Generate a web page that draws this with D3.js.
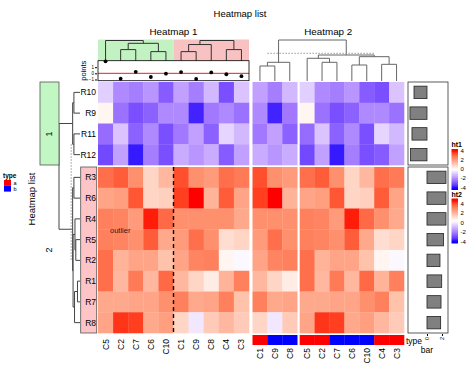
<!DOCTYPE html>
<html>
<head>
<meta charset="utf-8">
<script src="https://cdn.jsdelivr.net/npm/d3@7"></script>
<style>
  body { margin: 0; background: #fff; }
  svg { display: block; font-family: "Liberation Sans", Arial, sans-serif; }
</style>
</head>
<body>
<div id="chart"></div>
<script>
// size of the page
var width = 474;
var height = 369;

// rows, split in two slices
var rowsTop = ["R10", "R9", "R11", "R12"];
var rowsBottom = ["R3", "R6", "R4", "R5", "R2", "R1", "R7", "R8"];

// column orders
var matrixCols = ["C1", "C2", "C3", "C4", "C5", "C6", "C7", "C8", "C9", "C10"];
var hm1Cols = ["C5", "C2", "C7", "C6", "C10", "C1", "C9", "C8", "C4", "C3"];
var hm2ColsA = ["C1", "C9", "C8"];
var hm2ColsB = ["C5", "C2", "C7", "C6", "C10", "C4", "C3"];

// matrix values, one row per name, columns C1..C10
var matrixRows = ["R1", "R2", "R3", "R4", "R5", "R6", "R7", "R8", "R9", "R10", "R11", "R12"];
var matrixValues = [
  [1.5, 1.5, 2.6, 1.6, 2.9, 1.5, 2.7, 0.4, 0.9, 3.0],
  [1.9, 1.6, -0.1, 0.2, 2.9, 1.9, 1.9, 2.6, 2.5, 1.3],
  [3.4, 3.2, 2.7, 2.9, 2.9, 0.9, 2.3, 2.1, 2.3, 1.5],
  [2.3, 2.5, 1.8, 2.3, 2.6, 3.9, 2.1, 2.3, 2.3, 3.0],
  [2.1, 2.5, 0.9, 0.7, 2.6, 3.2, 2.3, 2.3, 2.9, 1.8],
  [3.6, 2.0, 1.9, 3.2, 1.9, 0.9, 3.3, 1.6, 4.0, 1.0],
  [2.6, 1.8, 1.3, 2.6, 1.8, 1.9, 1.9, 1.9, 1.8, 2.3],
  [0.9, 3.7, 1.1, 1.5, 1.9, 1.8, 3.6, 1.1, -0.4, 2.0],
  [-2.0, -2.4, -2.4, -2.0, 0.2, -2.7, -3.0, -2.3, -3.7, -2.0],
  [-1.6, -2.0, -1.0, -3.0, -0.8, -1.8, -2.2, -1.2, -2.2, -2.8],
  [-2.3, -1.0, -1.2, -0.7, -2.5, -2.0, -2.7, -2.7, -1.6, -3.0],
  [-1.4, -1.6, -1.6, -2.8, -3.1, -2.2, -3.8, -1.4, -1.8, -3.0]
];

// column annotation "points" (C1..C10)
var pointValues = [0.2, -0.88, -0.46, -0.15, 1.95, -0.6, 0.25, 0.15, -0.92, -0.06];
// column annotation "type" (C1..C10)
var typeValues = ["a", "a", "a", "a", "a", "b", "b", "b", "b", "b"];
var typeLevels = ["a", "b"];
var typeColors = ["#ff0000", "#0000ff"];
// row annotation "bar" (R1..R12)
var barValues = [1.96, 1.73, 2.53, 2.53, 2.2, 2.53, 1.87, 1.82, -2.27, -1.73, -2.0, -2.2];
var barTicks = [0, 2];
var legendTicks = [4, 2, 0, -2, -4];

// dendrograms: [height, left, right]
var hm1DendGreen = [10, "C5", [8.6, [5.5, "C2", "C7"], [4.5, "C6", "C10"]]];
var hm1DendRed = [10, [8, [4.5, "C1", "C9"], "C8"], [5.5, "C4", "C3"]];
var hm2Dend = [10, [4.56, [3.66, "C1", "C9"], "C8"],
  [6.34, [5.54, "C5", [4.56, "C2", "C7"]], [5.93, [3.9, "C6", "C10"], [4.07, "C4", "C3"]]]];
var hm2CutHeight = 6.76;
var rowDendTop = [3.5, [2.9, "R10", "R9"], [2.9, "R11", "R12"]];
var rowDendBottom = [3.5, [2.9, "R3", "R6"], [3.3, [2.4, "R4", [2.0, "R5", "R2"]], [2.6, [1.2, "R1", "R7"], "R8"]]];
var rowDendAll = [10, rowDendTop, rowDendBottom];

var svg = d3.select("#chart").append("svg")
  .attr("width", width)
  .attr("height", height);

var color = d3.scaleLinear()
  .domain([-4, 0, 4])
  .range(["#0000ff", "#ffffff", "#ff0000"])
  .interpolate(d3.interpolateLab)
  .clamp(true);

function value(r, c) {
  return matrixValues[matrixRows.indexOf(r)][matrixCols.indexOf(c)];
}

// scales for rows and columns
var yTop = d3.scaleBand().domain(rowsTop).range([82, 165]);
var yBottom = d3.scaleBand().domain(rowsBottom).range([167, 333]);
var rowSlices = [yTop, yBottom];
function rowY(r) {
  var s = rowsTop.indexOf(r) >= 0 ? yTop : yBottom;
  return s(r) + s.bandwidth() / 2;
}

var x1 = d3.scaleBand().domain(hm1Cols).range([98, 249]);
var x2a = d3.scaleBand().domain(hm2ColsA).range([252.5, 297.2]);
var x2b = d3.scaleBand().domain(hm2ColsB).range([299.7, 404]);
function colX(scale) {
  return function(c) { return scale(c) + scale.bandwidth() / 2; };
}
function x2(c) {
  return hm2ColsA.indexOf(c) >= 0 ? colX(x2a)(c) : colX(x2b)(c);
}

// heatmap bodies
function drawBody(xs) {
  rowSlices.forEach(function(ys) {
    xs.forEach(function(xsc) {
      ys.domain().forEach(function(r) {
        svg.selectAll(null)
          .data(xsc.domain())
          .enter()
          .append("rect")
          .attr("x", function(c) { return xsc(c); })
          .attr("y", ys(r))
          .attr("width", xsc.bandwidth() + 0.3)
          .attr("height", ys.bandwidth() + 0.3)
          .attr("fill", function(c) { return color(value(r, c)); });
      });
    });
  });
}
drawBody([x1]);
drawBody([x2a, x2b]);

// dashed line between column slices of heatmap 1 (bottom slice)
svg.append("line")
  .attr("x1", x1("C1")).attr("x2", x1("C1"))
  .attr("y1", yBottom.range()[0]).attr("y2", yBottom.range()[1])
  .attr("stroke", "#000")
  .attr("stroke-width", 1.4)
  .attr("stroke-dasharray", "4,3");

svg.append("text")
  .attr("x", 110).attr("y", 233)
  .attr("font-size", 7.5)
  .attr("fill", "#222")
  .text("outlier");

// dendrogram helper
function drawDend(g, tree, pos, hs, orient, stroke) {
  function walk(n) {
    if (typeof n === "string") return [pos(n), 0];
    var a = walk(n[1]), b = walk(n[2]);
    var h = n[0], d;
    if (orient === "top") {
      d = "M" + a[0] + "," + hs(a[1]) + "V" + hs(h) + "H" + b[0] + "V" + hs(b[1]);
    } else {
      d = "M" + hs(a[1]) + "," + a[0] + "H" + hs(h) + "V" + b[0] + "H" + hs(b[1]);
    }
    g.append("path").attr("d", d)
      .attr("fill", "none")
      .attr("stroke", stroke)
      .attr("stroke-width", 1);
    return [(a[0] + b[0]) / 2, h];
  }
  return walk(tree);
}

// heatmap 1 column dendrogram with slice backgrounds
var dendG = svg.append("g");
dendG.append("rect")
  .attr("x", x1("C5")).attr("y", 39.5)
  .attr("width", x1("C1") - x1("C5")).attr("height", 21.2)
  .attr("fill", "#c2f2c2");
dendG.append("rect")
  .attr("x", x1("C1")).attr("y", 39.5)
  .attr("width", x1.range()[1] - x1("C1")).attr("height", 21.2)
  .attr("fill", "#f8c2c2");
var hs1 = d3.scaleLinear().domain([0, 10]).range([60.7, 40.5]);
drawDend(dendG, hm1DendGreen, colX(x1), hs1, "top", "#333");
drawDend(dendG, hm1DendRed, colX(x1), hs1, "top", "#333");

// heatmap 2 column dendrogram
var hs2 = d3.scaleLinear().domain([0, 10]).range([81, 40]);
drawDend(dendG, hm2Dend, x2, hs2, "top", "#666");
svg.append("line")
  .attr("x1", (x2("C1") + x2("C9")) / 2)
  .attr("x2", ((x2("C6") + x2("C10")) / 2 + (x2("C4") + x2("C3")) / 2) / 2)
  .attr("y1", hs2(hm2CutHeight)).attr("y2", hs2(hm2CutHeight))
  .attr("stroke", "#999")
  .attr("stroke-dasharray", "1.5,1.5");

// row dendrogram
var hsRow = d3.scaleLinear().domain([0, 10]).range([80, 59]);
drawDend(svg.append("g"), rowDendAll, rowY, hsRow, "left", "#444");
svg.append("line")
  .attr("x1", hsRow(4.2)).attr("x2", hsRow(4.2))
  .attr("y1", (rowY("R11") + rowY("R12")) / 2).attr("y2", rowY("R2"))
  .attr("stroke", "#999")
  .attr("stroke-dasharray", "1.5,1.5");

// points annotation
var py = d3.scaleLinear().domain([-1.2, 2.05]).range([80.7, 60.7]);
var pg = svg.append("g");
pg.append("line")
  .attr("x1", x1.range()[0]).attr("x2", x1.range()[1])
  .attr("y1", py(0)).attr("y2", py(0))
  .attr("stroke", "#e02020").attr("stroke-width", 1);
pg.selectAll("circle")
  .data(hm1Cols)
  .enter()
  .append("circle")
  .attr("cx", colX(x1))
  .attr("cy", function(c) { return py(pointValues[matrixCols.indexOf(c)]); })
  .attr("r", 1.9)
  .attr("fill", "#000");
pg.append("rect")
  .attr("x", x1.range()[0]).attr("y", py.range()[1])
  .attr("width", x1.range()[1] - x1.range()[0])
  .attr("height", py.range()[0] - py.range()[1])
  .attr("fill", "none").attr("stroke", "#000").attr("stroke-width", 0.8);
var pAxis = svg.append("g")
  .attr("transform", "translate(" + (x1.range()[0] - 1) + ",0)")
  .call(d3.axisLeft(py).tickValues([-1, 0, 1]).tickFormat(d3.format("d")).tickSize(2).tickPadding(1));
pAxis.select(".domain").remove();
pAxis.selectAll("text").attr("font-size", 4.5).attr("font-family", "Liberation Sans, Arial");
svg.append("text")
  .attr("transform", "translate(86," + ((py.range()[0] + py.range()[1]) / 2) + ") rotate(-90)")
  .attr("text-anchor", "middle")
  .attr("font-size", 7.5)
  .text("points");

// type annotation for heatmap 2
svg.selectAll(null)
  .data(hm2ColsA.concat(hm2ColsB))
  .enter()
  .append("rect")
  .attr("x", function(c) { return hm2ColsA.indexOf(c) >= 0 ? x2a(c) : x2b(c); })
  .attr("y", 335)
  .attr("width", x2a.bandwidth() + 0.3)
  .attr("height", 10)
  .attr("fill", function(c) {
    return typeColors[typeLevels.indexOf(typeValues[matrixCols.indexOf(c)])];
  });
svg.append("text")
  .attr("x", 406).attr("y", 344)
  .attr("font-size", 8.5)
  .text("type");

// column labels
function colLabels(cols, xf, y0) {
  svg.selectAll(null)
    .data(cols)
    .enter()
    .append("text")
    .attr("transform", function(c) { return "translate(" + (xf(c) + 3) + "," + y0 + ") rotate(-90)"; })
    .attr("text-anchor", "end")
    .attr("font-size", 8.5)
    .text(function(c) { return c; });
}
colLabels(hm1Cols, colX(x1), 339);
colLabels(hm2ColsA.concat(hm2ColsB), x2, 348);

// row labels
svg.append("rect")
  .attr("x", 80.7).attr("y", yBottom.range()[0])
  .attr("width", 16).attr("height", yBottom.range()[1] - yBottom.range()[0])
  .attr("fill", "#ffc4c6").attr("stroke", "#555").attr("stroke-width", 0.8);
svg.selectAll(null)
  .data(rowsTop.concat(rowsBottom))
  .enter()
  .append("text")
  .attr("x", 96)
  .attr("y", function(r) { return rowY(r) + 3; })
  .attr("text-anchor", "end")
  .attr("font-size", 8.5)
  .text(function(r) { return r; });

// row slice titles
svg.append("rect")
  .attr("x", 40).attr("y", yTop.range()[0])
  .attr("width", 19).attr("height", yTop.range()[1] - yTop.range()[0])
  .attr("fill", "#c2f6c2").attr("stroke", "#555").attr("stroke-width", 0.8);
svg.append("text")
  .attr("transform", "translate(52," + rowY("R11") + ") rotate(-90)")
  .attr("text-anchor", "middle")
  .attr("font-size", 9)
  .text("1");
svg.append("text")
  .attr("transform", "translate(52," + ((yBottom.range()[0] + yBottom.range()[1]) / 2) + ") rotate(-90)")
  .attr("text-anchor", "middle")
  .attr("font-size", 9)
  .text("2");
svg.append("text")
  .attr("transform", "translate(35,199) rotate(-90)")
  .attr("text-anchor", "middle")
  .attr("font-size", 9.5)
  .text("Heatmap list");

// titles
svg.append("text").attr("x", 240).attr("y", 17)
  .attr("text-anchor", "middle").attr("font-size", 9.5).text("Heatmap list");
svg.append("text").attr("x", (x1.range()[0] + x1.range()[1]) / 2).attr("y", 35)
  .attr("text-anchor", "middle").attr("font-size", 9.8).text("Heatmap 1");
svg.append("text").attr("x", (x2a.range()[0] + x2b.range()[1]) / 2).attr("y", 35)
  .attr("text-anchor", "middle").attr("font-size", 9.8).text("Heatmap 2");

// bar annotation
var bx = d3.scaleLinear().domain([-2.53, 2.8]).range([408, 448]);
rowSlices.forEach(function(ys) {
  svg.append("rect")
    .attr("x", bx.range()[0]).attr("y", ys.range()[0])
    .attr("width", bx.range()[1] - bx.range()[0])
    .attr("height", ys.range()[1] - ys.range()[0])
    .attr("fill", "none").attr("stroke", "#333").attr("stroke-width", 0.8);
  svg.selectAll(null)
    .data(ys.domain())
    .enter()
    .append("rect")
    .attr("x", function(r) { return bx(Math.min(0, barValues[matrixRows.indexOf(r)])); })
    .attr("y", function(r) { return ys(r) + ys.bandwidth() * 0.2; })
    .attr("width", function(r) { return Math.abs(bx(barValues[matrixRows.indexOf(r)]) - bx(0)); })
    .attr("height", ys.bandwidth() * 0.6)
    .attr("fill", "#808080").attr("stroke", "#222").attr("stroke-width", 0.8);
});
var bAxis = svg.append("g")
  .attr("transform", "translate(0," + (yBottom.range()[1] + 1) + ")")
  .call(d3.axisBottom(bx).tickValues(barTicks).tickFormat(d3.format("d")).tickSize(2).tickPadding(1));
bAxis.select(".domain").remove();
bAxis.selectAll("text")
  .attr("font-size", 5.5).attr("font-family", "Liberation Sans, Arial")
  .attr("transform", "rotate(-90)").attr("text-anchor", "end")
  .attr("dx", 0).attr("dy", "0.35em")
  .attr("y", 0).attr("x", -3);
svg.append("text").attr("x", bx(0)).attr("y", 353)
  .attr("text-anchor", "middle").attr("font-size", 8.5).text("bar");

// colour legends
var defs = svg.append("defs");
var grad = defs.append("linearGradient").attr("id", "ramp")
  .attr("x1", 0).attr("x2", 0).attr("y1", 0).attr("y2", 1);
d3.range(0, 1.0001, 0.05).forEach(function(t) {
  grad.append("stop").attr("offset", t).attr("stop-color", color(4.4 - 8.8 * t));
});
function colorLegend(title, y0, y1, t0, t1) {
  svg.append("text").attr("x", 451.5).attr("y", y0 - 2)
    .attr("font-size", 7).attr("font-weight", "bold").text(title);
  svg.append("rect").attr("x", 451.5).attr("y", y0)
    .attr("width", 6.5).attr("height", y1 - y0).attr("fill", "url(#ramp)");
  var ly = d3.scaleLinear().domain([4, -4]).range([t0, t1]);
  svg.selectAll(null)
    .data(legendTicks)
    .enter()
    .append("text")
    .attr("x", 460.5)
    .attr("y", function(d) { return ly(d) + 2; })
    .attr("font-size", 6)
    .text(function(d) { return d; });
}
colorLegend("ht1", 149, 190, 151, 187.5);
colorLegend("ht2", 198.5, 243.5, 203.5, 241.5);

// type legend
svg.append("text").attr("x", 3).attr("y", 178)
  .attr("font-size", 6.5).attr("font-weight", "bold").text("type");
svg.selectAll(null)
  .data(typeLevels)
  .enter()
  .append("rect")
  .attr("x", 4)
  .attr("y", function(d, i) { return 180 + i * 5.8; })
  .attr("width", 7).attr("height", 5.8)
  .attr("fill", function(d, i) { return typeColors[i]; });
svg.selectAll(null)
  .data(typeLevels)
  .enter()
  .append("text")
  .attr("x", 13.5)
  .attr("y", function(d, i) { return 185 + i * 5.8; })
  .attr("font-size", 5.5)
  .text(function(d) { return d; });
</script>
</body>
</html>
